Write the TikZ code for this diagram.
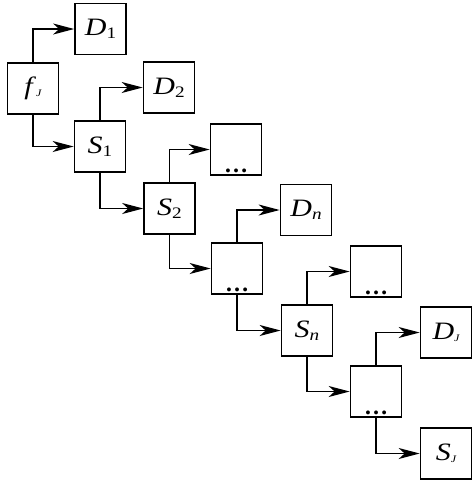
\documentclass[tikz,border=0pt]{standalone}
\usepackage{fontspec}
\setmainfont{Liberation Serif}
\usepackage{tikz}
\usetikzlibrary{arrows.meta}

\newcommand\wid[1]{\scalebox{1.2}[1]{#1}}
\newcommand\sub[1]{\raisebox{-3pt}{\fontsize{16}{16}\selectfont #1}}
\newcommand\subJ{\raisebox{-2pt}{\fontsize{10}{10}\selectfont\itshape J}}

\begin{document}
\begin{tikzpicture}[x=1pt, y=-1pt,
    box/.style={draw, line width=1.7pt, minimum width=51pt, minimum height=51pt,
      inner sep=0pt, font=\fontsize{25}{25}\selectfont},
    gap/.style={box, label={[anchor=south, inner sep=3pt,
      font=\fontsize{24}{24}\selectfont\bfseries]south:\dots}},
    arr/.style={-{Stealth[length=21pt, width=11pt, inset=6pt]}, line width=1.6pt}]
      \useasboundingbox (0, 0) rectangle (474, 483);
      % chain of boxes
      \node[box] (fj) at (33, 88.5) {\wid{\textit{f}\subJ}};
      \node[box] (s1) at (100, 146.5) {\wid{\textit{S}\sub{1}}};
      \node[box] (s2) at (169.5, 208.5) {\wid{\textit{S}\sub{2}}};
      \node[gap] (e2) at (237, 268.5) {};
      \node[box] (sn) at (307, 330.5) {\wid{\textit{S}\sub{\itshape n}}};
      \node[gap] (e4) at (376, 391.5) {};
      \node[box] (sj) at (446, 453.5) {\wid{\textit{S}\subJ}};
      % side boxes
      \node[box] (d1) at (100.5, 29) {\wid{\textit{D}\sub{1}}};
      \node[box] (d2) at (169, 87.5) {\wid{\textit{D}\sub{2}}};
      \node[gap] (e1) at (236, 149.5) {};
      \node[box] (dn) at (306, 210) {\wid{\textit{D}\sub{\itshape n}}};
      \node[gap] (e3) at (376, 271.5) {};
      \node[box] (dj) at (446, 332.5) {\wid{\textit{D}\subJ}};
      % connectors
      \draw[arr] (fj.north) |- (d1.west);
      \draw[arr] (fj.south) |- (s1.west);
      \draw[arr] (s1.north) |- (d2.west);
      \draw[arr] (s1.south) |- (s2.west);
      \draw[arr] (s2.north) |- (e1.west);
      \draw[arr] (s2.south) |- (e2.west);
      \draw[arr] (e2.north) |- (dn.west);
      \draw[arr] (e2.south) |- (sn.west);
      \draw[arr] (sn.north) |- (e3.west);
      \draw[arr] (sn.south) |- (e4.west);
      \draw[arr] (e4.north) |- (dj.west);
      \draw[arr] (e4.south) |- (sj.west);
    \end{tikzpicture}
\end{document}
